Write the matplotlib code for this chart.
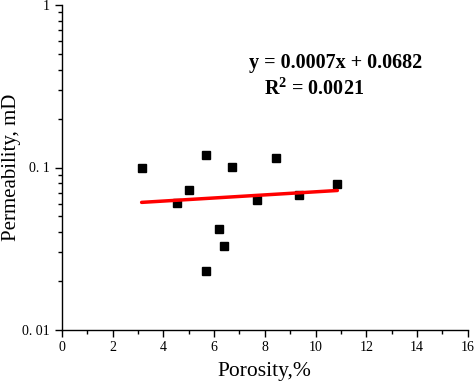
import matplotlib
matplotlib.use("Agg")
import matplotlib.pyplot as plt
from matplotlib.ticker import FixedLocator, NullFormatter

######################### DATA #########################

porosity = [3.14, 5.69, 6.70, 8.45, 10.86, 5.01, 4.55, 7.69, 9.36, 6.20, 6.40, 5.69]
permeability = [0.100, 0.120, 0.101, 0.115, 0.0788, 0.0727, 0.0605, 0.063, 0.0675, 0.042, 0.033, 0.0232]

# fitted line endpoints as drawn
fit_x = [3.14, 10.86]
fit_y = [0.061, 0.0722]

x_ticks = [0, 2, 4, 6, 8, 10, 12, 14, 16]
y_ticks = [0.01, 0.1, 1]
y_labels = ["0. 01", "0. 1", "1"]

equation = "y = 0.0007x + 0.0682"
r2_text = "R$\\mathbf{^2}$ = 0.0021"

######################### PLOT #########################

W, H = 474, 384
fig = plt.figure(figsize=(W / 100, H / 100), dpi=100)
ax = fig.add_axes([62 / W, 1 - 330 / H, (467.7 - 62) / W, (330 - 5) / H])

serif = "Liberation Serif"
plt.rcParams['mathtext.fontset'] = 'custom'
plt.rcParams['mathtext.rm'] = serif
plt.rcParams['mathtext.bf'] = serif + ':bold'

ax.plot(porosity, permeability, 's', color='black', ms=5.2, zorder=2, clip_on=False)
ax.plot(fit_x, fit_y, '-', color='#ff0000', lw=2.5, solid_capstyle='round', zorder=3)

ax.set_yscale('log')
ax.set_xlim(0, 16)
ax.set_ylim(0.01, 1)

ax.set_xticks(x_ticks)
ax.set_xticklabels([str(t) for t in x_ticks], fontfamily=serif, fontsize=10)
ax.xaxis.set_minor_locator(FixedLocator([1, 3, 5, 7, 9, 11, 13, 15]))

ax.set_yticks(y_ticks)
ax.set_yticklabels(y_labels, fontfamily=serif, fontsize=10)
minors = [m * d for d in (0.01, 0.1) for m in range(2, 10)]
ax.yaxis.set_minor_locator(FixedLocator(minors))
ax.yaxis.set_minor_formatter(NullFormatter())

ax.tick_params(which='major', direction='out', length=5, width=1.0, pad=3)
ax.tick_params(axis='y', which='major', pad=4)
ax.tick_params(which='minor', direction='out', length=3, width=1.0)

ax.spines['top'].set_visible(False)
ax.spines['right'].set_visible(False)
ax.spines['left'].set_linewidth(1.0)
ax.spines['bottom'].set_linewidth(1.0)

ax.set_xlabel("Porosity,%", fontfamily=serif, fontsize=15.5, labelpad=6)
ax.set_ylabel("Permeability, mD", fontfamily=serif, fontsize=15)
ax.yaxis.set_label_coords(-0.102, 0.5)

fig.text(249 / W, 1 - 68 / H, equation, fontfamily=serif, fontweight='bold',
         fontsize=14.5, va='baseline', ha='left')
fig.text(264 / W, 1 - 95 / H, r2_text, fontfamily=serif, fontweight='bold',
         fontsize=14.5, va='baseline', ha='left')

fig.savefig("out.png", dpi=100)
